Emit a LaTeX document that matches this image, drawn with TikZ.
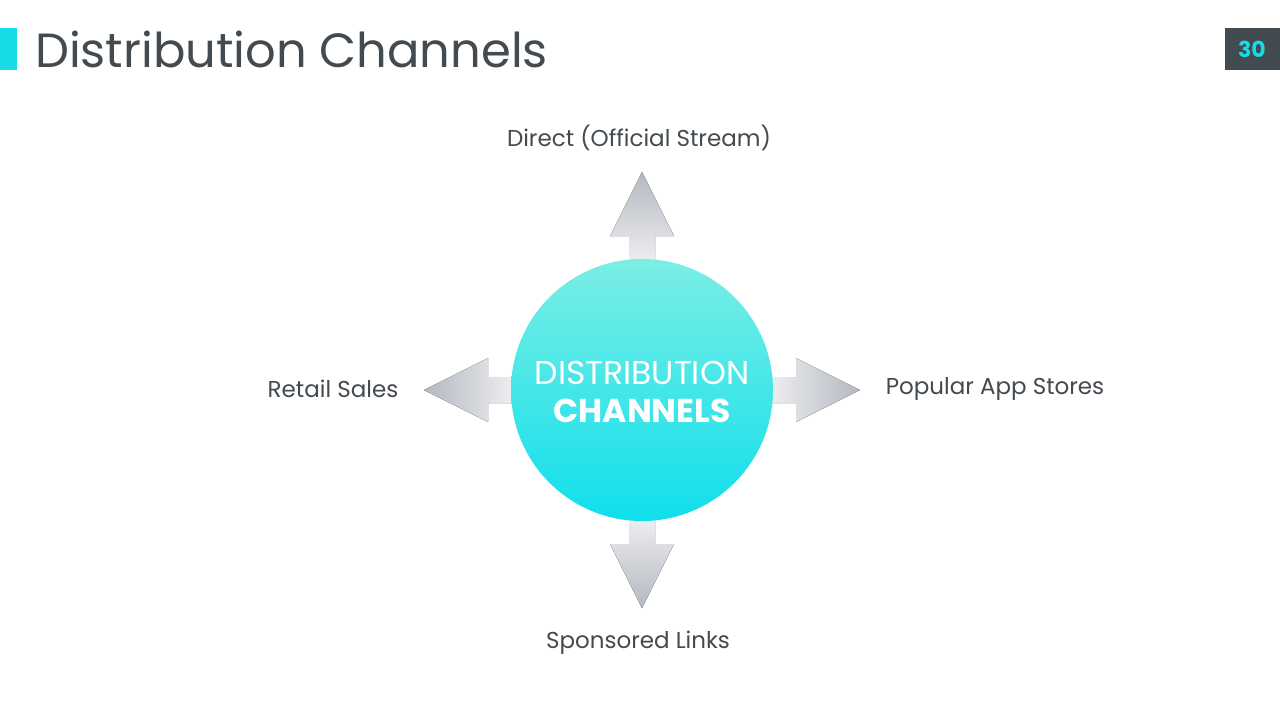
\documentclass[tikz,border=0pt]{standalone}
\usepackage{fontspec}
\setmainfont{Poppins}
\usetikzlibrary{positioning}
\definecolor{slatetext}{HTML}{434A50}
\definecolor{brandcyan}{HTML}{17DCE8}
\definecolor{arrowgray}{HTML}{B4B8C0}
\tikzset{
  channel/.style={text=slatetext,font=\fontsize{11.5}{13}\selectfont},
  spoke east/.style={left color=white,right color=arrowgray},
  spoke west/.style={right color=white,left color=arrowgray},
  spoke south/.style={bottom color=white,top color=arrowgray},
  spoke north/.style={top color=white,bottom color=arrowgray}
}
\begin{document}
\begin{tikzpicture}[x=0.5pt,y=-0.5pt]
  \useasboundingbox[fill=white] (0,0) rectangle (1280,720);
  % header
  \fill[brandcyan] (0,28) rectangle (17,70);
  \node[anchor=west,text=slatetext,font=\fontsize{24}{28}\selectfont] (title) at (28,49) {Distribution Channels};
  \fill[slatetext] (1225,28) rectangle (1280,70);
  \node[text=brandcyan,font=\bfseries\fontsize{11}{13}\selectfont] (page) at (1252,49) {30};
  % spokes
  \foreach \a/\dir in {0/east,90/south,180/west,270/north}
    \fill[spoke \dir,rotate around={\a:(642,390)}]
      (742,377) -- (796,377) -- (796,358) -- (860,390) -- (796,422) -- (796,403) -- (742,403) -- cycle;
  % hub
  \shade[top color={rgb,255:red,123;green,238;blue,228},bottom color={rgb,255:red,15;green,223;blue,236}]
    (642,390) circle (131);
  \node[align=center,text=white,font=\fontsize{16.5}{19}\selectfont] (hub) at (642,392)
    {DISTRIBUTION\\[0pt]\textbf{CHANNELS}};
  % labels
  \node[channel] (direct) at (639,138) {Direct (Official Stream)};
  \node[channel] (apps) at (995,389) {Popular App Stores};
  \node[channel] (retail) at (333,389) {Retail Sales};
  \node[channel] (links) at (638,643) {Sponsored Links};
\end{tikzpicture}
\end{document}
